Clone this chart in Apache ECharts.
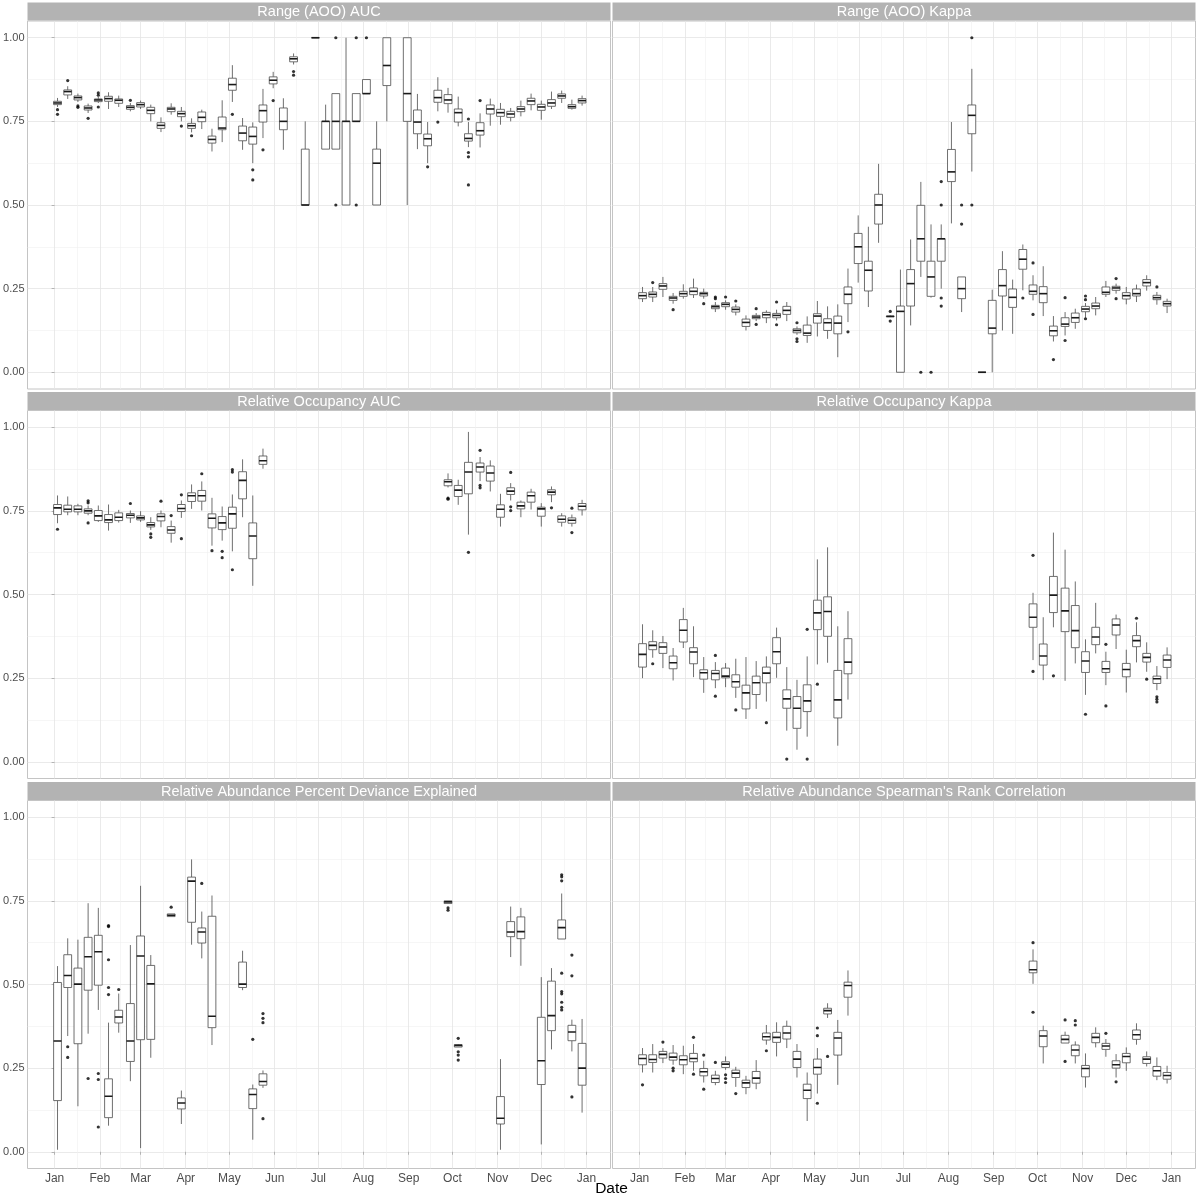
<!DOCTYPE html>
<html>
<head>
<meta charset="utf-8">
<script src="https://cdn.jsdelivr.net/npm/echarts@6/dist/echarts.min.js"></script>
<style>html,body{margin:0;padding:0;background:#fff}#chart{width:1200px;height:1200px}</style>
</head>
<body>
<div id="chart"></div>
<script>
// ---- week positions (day of year of each weekly sample) ----
const weekDay = [2,9,16,23,30,37,44,52,59,66,73,80,87,94,101,108,115,122,129,136,143,150,157,164,172,179,186,193,200,207,214,221,228,235,242,249,256,263,270,277,284,292,299,306,313,320,327,334,341,348,355,362];
const monthTickDays = [0,31,59,90,120,151,181,212,243,273,304,334,365];
const monthLabels = ['Jan','Feb','Mar','Apr','May','Jun','Jul','Aug','Sep','Oct','Nov','Dec','Jan'];
const yTicks = [0, 0.25, 0.5, 0.75, 1.0];
const yMinorTicks = [0.125, 0.375, 0.625, 0.875];
const panelTitles = ['Range (AOO) AUC','Range (AOO) Kappa','Relative Occupancy AUC','Relative Occupancy Kappa','Relative Abundance Percent Deviance Explained',"Relative Abundance Spearman's Rank Correlation"];

// ---- box stats: [week, lower whisker, Q1, median, Q3, upper whisker] ; outliers: [week, value] ----
const aooAucBox = [[0,0.793,0.800,0.805,0.810,0.820],[1,0.817,0.829,0.839,0.844,0.855],[2,0.808,0.814,0.821,0.826,0.833],[3,0.775,0.784,0.790,0.796,0.803],[4,0.805,0.809,0.814,0.817,0.823],[5,0.787,0.810,0.818,0.825,0.837],[6,0.793,0.804,0.813,0.817,0.827],[7,0.780,0.786,0.792,0.797,0.805],[8,0.787,0.793,0.800,0.806,0.812],[9,0.750,0.773,0.783,0.792,0.800],[10,0.718,0.729,0.738,0.746,0.762],[11,0.770,0.779,0.787,0.792,0.804],[12,0.750,0.764,0.773,0.780,0.793],[13,0.717,0.729,0.737,0.744,0.759],[14,0.727,0.749,0.762,0.778,0.785],[15,0.660,0.685,0.696,0.706,0.728],[16,0.688,0.725,0.730,0.763,0.813],[17,0.808,0.843,0.860,0.879,0.918],[18,0.665,0.692,0.715,0.736,0.760],[19,0.625,0.682,0.705,0.733,0.747],[20,0.700,0.748,0.782,0.799,0.847],[21,0.849,0.862,0.873,0.883,0.898],[22,0.665,0.725,0.750,0.790,0.819],[23,0.920,0.928,0.937,0.943,0.953],[24,0.500,0.500,0.500,0.667,0.750],[25,1.0,1.0,1.0,1.0,1.0],[26,0.667,0.667,0.750,0.750,0.800],[27,0.667,0.667,0.750,0.833,0.833],[28,0.500,0.500,0.750,0.750,1.0],[29,0.750,0.750,0.750,0.833,0.833],[30,0.833,0.833,0.833,0.875,0.875],[31,0.500,0.500,0.625,0.667,0.750],[32,0.750,0.857,0.917,1.0,1.0],[34,0.500,0.750,0.833,1.0,1.0],[35,0.667,0.713,0.748,0.784,0.832],[36,0.625,0.677,0.698,0.712,0.748],[37,0.780,0.807,0.821,0.843,0.882],[38,0.776,0.803,0.814,0.830,0.850],[39,0.735,0.748,0.776,0.787,0.824],[40,0.673,0.691,0.699,0.713,0.748],[41,0.672,0.709,0.722,0.746,0.774],[42,0.737,0.772,0.787,0.799,0.818],[43,0.740,0.765,0.776,0.786,0.805],[44,0.750,0.762,0.772,0.780,0.790],[45,0.765,0.779,0.787,0.794,0.812],[46,0.783,0.800,0.811,0.819,0.833],[47,0.755,0.783,0.793,0.801,0.812],[48,0.787,0.795,0.805,0.815,0.839],[49,0.805,0.819,0.826,0.832,0.842],[50,0.785,0.789,0.794,0.800,0.815],[51,0.797,0.805,0.812,0.818,0.827]];
const aooAucOut = [[0,0.785],[0,0.771],[1,0.872],[2,0.796],[2,0.792],[3,0.759],[4,0.835],[4,0.828],[4,0.793],[7,0.813],[12,0.736],[13,0.707],[17,0.771],[19,0.605],[19,0.575],[20,0.665],[21,0.812],[23,0.899],[23,0.888],[27,1.0],[27,0.5],[29,1.0],[29,0.5],[30,1.0],[36,0.614],[37,0.748],[40,0.757],[40,0.657],[40,0.644],[40,0.560],[41,0.812]];

const aooKappaBox = [[0,0.210,0.220,0.229,0.238,0.255],[1,0.210,0.225,0.233,0.240,0.255],[2,0.225,0.248,0.258,0.265,0.285],[3,0.205,0.215,0.222,0.227,0.237],[4,0.220,0.227,0.235,0.242,0.263],[5,0.222,0.232,0.242,0.252,0.280],[6,0.220,0.228,0.235,0.239,0.250],[7,0.180,0.190,0.196,0.200,0.210],[8,0.187,0.196,0.203,0.208,0.215],[9,0.170,0.180,0.188,0.195,0.203],[10,0.125,0.137,0.149,0.159,0.170],[11,0.153,0.160,0.165,0.170,0.177],[12,0.147,0.163,0.172,0.179,0.185],[13,0.155,0.163,0.170,0.176,0.187],[14,0.153,0.173,0.185,0.197,0.210],[15,0.112,0.118,0.125,0.130,0.137],[16,0.088,0.110,0.117,0.141,0.167],[17,0.107,0.147,0.168,0.175,0.213],[18,0.100,0.125,0.148,0.160,0.197],[19,0.045,0.115,0.147,0.168,0.203],[20,0.150,0.205,0.233,0.255,0.310],[21,0.268,0.325,0.375,0.415,0.469],[22,0.195,0.243,0.305,0.332,0.435],[23,0.387,0.443,0.500,0.532,0.623],[24,0.165,0.166,0.167,0.168,0.170],[25,0.0,0.0,0.182,0.198,0.307],[26,0.140,0.198,0.265,0.307,0.397],[27,0.285,0.332,0.399,0.499,0.569],[28,0.223,0.227,0.285,0.332,0.442],[29,0.250,0.332,0.399,0.399,0.442],[30,0.445,0.570,0.599,0.666,0.748],[31,0.180,0.220,0.250,0.285,0.285],[32,0.600,0.713,0.768,0.799,0.907],[33,0,0,0,0,0],[34,0.0,0.115,0.132,0.215,0.247],[35,0.125,0.228,0.259,0.307,0.362],[36,0.115,0.194,0.224,0.249,0.277],[37,0.245,0.308,0.338,0.367,0.382],[38,0.215,0.233,0.242,0.261,0.290],[39,0.168,0.208,0.235,0.256,0.317],[40,0.092,0.109,0.124,0.138,0.168],[41,0.110,0.137,0.144,0.163,0.180],[42,0.130,0.149,0.163,0.177,0.190],[43,0.163,0.181,0.189,0.197,0.207],[44,0.170,0.190,0.198,0.207,0.225],[45,0.225,0.233,0.239,0.255,0.273],[46,0.235,0.245,0.252,0.257,0.265],[47,0.203,0.219,0.229,0.238,0.255],[48,0.210,0.228,0.235,0.249,0.262],[49,0.244,0.258,0.268,0.277,0.290],[50,0.202,0.217,0.223,0.230,0.240],[51,0.177,0.198,0.205,0.212,0.220]];
const aooKappaOut = [[1,0.268],[3,0.187],[6,0.205],[7,0.225],[7,0.220],[8,0.225],[9,0.213],[11,0.190],[11,0.143],[13,0.210],[13,0.142],[15,0.148],[15,0.100],[15,0.092],[20,0.121],[24,0.182],[24,0.153],[27,0],[28,0],[29,0.570],[29,0.500],[29,0.222],[29,0.198],[31,0.5],[31,0.443],[32,1.0],[32,0.5],[37,0.222],[38,0.327],[38,0.173],[40,0.038],[41,0.223],[41,0.095],[43,0.228],[43,0.217],[43,0.160],[46,0.280],[46,0.220],[50,0.255]];

const occAucBox = [[0,0.713,0.739,0.759,0.769,0.796],[1,0.737,0.747,0.755,0.767,0.793],[2,0.737,0.747,0.755,0.765,0.771],[3,0.737,0.743,0.750,0.756,0.766],[4,0.717,0.721,0.735,0.751,0.766],[5,0.691,0.715,0.723,0.739,0.769],[6,0.715,0.721,0.731,0.744,0.753],[7,0.714,0.729,0.737,0.742,0.751],[8,0.717,0.723,0.729,0.735,0.749],[9,0.693,0.702,0.708,0.715,0.731],[10,0.701,0.720,0.733,0.741,0.751],[11,0.655,0.683,0.693,0.703,0.721],[12,0.729,0.748,0.757,0.769,0.781],[13,0.756,0.778,0.795,0.804,0.829],[14,0.751,0.779,0.795,0.811,0.838],[15,0.646,0.699,0.728,0.741,0.789],[16,0.661,0.694,0.714,0.733,0.763],[17,0.629,0.698,0.741,0.761,0.799],[18,0.731,0.786,0.841,0.867,0.904],[19,0.526,0.607,0.675,0.714,0.796],[20,0.876,0.889,0.900,0.914,0.936],[38,0.820,0.825,0.837,0.843,0.862],[39,0.768,0.793,0.812,0.826,0.843],[40,0.679,0.801,0.866,0.895,0.986],[41,0.839,0.866,0.881,0.893,0.911],[42,0.808,0.839,0.863,0.884,0.901],[43,0.703,0.731,0.755,0.768,0.801],[44,0.781,0.799,0.809,0.819,0.833],[45,0.731,0.756,0.765,0.776,0.781],[46,0.754,0.776,0.795,0.806,0.816],[47,0.703,0.734,0.756,0.761,0.773],[48,0.776,0.798,0.806,0.813,0.823],[49,0.703,0.716,0.725,0.735,0.743],[50,0.703,0.713,0.722,0.729,0.739],[51,0.736,0.753,0.764,0.772,0.783]];
const occAucOut = [[0,0.695],[3,0.780],[3,0.774],[3,0.714],[7,0.772],[9,0.681],[9,0.671],[10,0.779],[11,0.736],[12,0.798],[12,0.667],[14,0.861],[15,0.631],[16,0.629],[16,0.610],[17,0.873],[17,0.866],[17,0.574],[38,0.788],[38,0.785],[40,0.626],[41,0.931],[41,0.826],[41,0.819],[44,0.865],[44,0.762],[44,0.751],[48,0.759],[50,0.758],[50,0.685]];

const occKappaBox = [[0,0.250,0.283,0.321,0.353,0.411],[1,0.311,0.335,0.348,0.359,0.393],[2,0.280,0.324,0.343,0.356,0.376],[3,0.243,0.278,0.296,0.316,0.340],[4,0.340,0.358,0.393,0.425,0.460],[5,0.253,0.293,0.328,0.341,0.405],[6,0.206,0.247,0.266,0.275,0.313],[7,0.220,0.245,0.264,0.273,0.298],[8,0.223,0.251,0.256,0.280,0.295],[9,0.191,0.223,0.239,0.260,0.308],[10,0.128,0.158,0.206,0.229,0.313],[11,0.158,0.201,0.236,0.256,0.301],[12,0.180,0.236,0.265,0.283,0.315],[13,0.251,0.293,0.329,0.371,0.401],[14,0.093,0.160,0.188,0.215,0.283],[15,0.036,0.100,0.160,0.195,0.245],[16,0.075,0.150,0.182,0.230,0.315],[17,0.291,0.395,0.445,0.483,0.605],[18,0.296,0.375,0.449,0.493,0.641],[19,0.048,0.131,0.185,0.273,0.405],[20,0.186,0.263,0.298,0.368,0.450],[38,0.304,0.402,0.432,0.472,0.505],[39,0.244,0.289,0.316,0.352,0.432],[40,0.402,0.446,0.498,0.554,0.685],[41,0.242,0.389,0.451,0.519,0.634],[42,0.294,0.341,0.392,0.467,0.539],[43,0.200,0.267,0.301,0.329,0.366],[44,0.324,0.350,0.373,0.402,0.475],[45,0.229,0.267,0.278,0.300,0.329],[46,0.337,0.379,0.409,0.427,0.440],[47,0.207,0.254,0.276,0.294,0.335],[48,0.297,0.344,0.362,0.377,0.417],[49,0.269,0.298,0.312,0.324,0.357],[50,0.214,0.234,0.248,0.256,0.286],[51,0.247,0.282,0.304,0.319,0.342]];
const occKappaOut = [[1,0.293],[7,0.318],[7,0.196],[9,0.155],[12,0.117],[14,0.008],[16,0.396],[16,0.008],[17,0.232],[38,0.617],[38,0.270],[40,0.257],[43,0.142],[45,0.351],[45,0.167],[48,0.429],[49,0.247],[50,0.194],[50,0.187],[50,0.179]];

const devExplBox = [[0,0.006,0.153,0.331,0.506,0.555],[1,0.346,0.491,0.527,0.589,0.638],[2,0.136,0.323,0.501,0.549,0.634],[3,0.353,0.483,0.583,0.641,0.743],[4,0.424,0.498,0.598,0.647,0.729],[5,0.078,0.102,0.166,0.218,0.386],[6,0.356,0.385,0.403,0.423,0.473],[7,0.211,0.270,0.331,0.443,0.618],[8,0.011,0.335,0.585,0.645,0.795],[9,0.281,0.336,0.502,0.557,0.588],[11,0.703,0.703,0.707,0.711,0.711],[12,0.083,0.128,0.146,0.161,0.183],[13,0.619,0.686,0.809,0.821,0.874],[14,0.578,0.624,0.657,0.669,0.718],[15,0.319,0.371,0.405,0.704,0.766],[18,0.483,0.491,0.501,0.567,0.601],[19,0.036,0.129,0.171,0.188,0.201],[20,0.191,0.199,0.210,0.233,0.243],[38,0.742,0.742,0.747,0.750,0.750],[39,0.313,0.313,0.318,0.320,0.322],[43,0.006,0.083,0.100,0.165,0.277],[44,0.582,0.643,0.657,0.688,0.733],[45,0.556,0.637,0.658,0.702,0.729],[47,0.022,0.201,0.272,0.402,0.522],[48,0.306,0.362,0.407,0.510,0.549],[49,0.636,0.636,0.670,0.693,0.772],[50,0.300,0.332,0.358,0.378,0.395],[51,0.117,0.199,0.250,0.324,0.397]];
const devExplOut = [[1,0.314],[1,0.282],[3,0.219],[4,0.234],[4,0.216],[4,0.074],[5,0.676],[5,0.673],[5,0.574],[5,0.491],[5,0.470],[6,0.485],[11,0.731],[14,0.802],[19,0.336],[20,0.413],[20,0.399],[20,0.386],[20,0.099],[38,0.729],[38,0.722],[39,0.339],[39,0.299],[39,0.289],[39,0.274],[49,0.828],[49,0.822],[49,0.810],[49,0.534],[49,0.479],[49,0.472],[49,0.447],[49,0.432],[49,0.424],[50,0.588],[50,0.526],[50,0.164]];

const spearmanBox = [[0,0.237,0.260,0.279,0.290,0.310],[1,0.237,0.267,0.276,0.290,0.322],[2,0.265,0.280,0.291,0.300,0.310],[3,0.260,0.274,0.283,0.295,0.319],[4,0.232,0.260,0.275,0.287,0.317],[5,0.242,0.269,0.279,0.294,0.322],[6,0.207,0.227,0.239,0.249,0.272],[7,0.199,0.207,0.219,0.229,0.242],[8,0.245,0.252,0.262,0.269,0.285],[9,0.194,0.222,0.235,0.244,0.254],[10,0.172,0.192,0.206,0.214,0.227],[11,0.187,0.205,0.220,0.240,0.274],[12,0.320,0.334,0.344,0.355,0.379],[13,0.285,0.327,0.342,0.357,0.387],[14,0.310,0.337,0.355,0.375,0.392],[15,0.222,0.252,0.277,0.300,0.322],[16,0.092,0.159,0.184,0.202,0.237],[17,0.174,0.232,0.252,0.277,0.310],[18,0.400,0.412,0.422,0.429,0.444],[19,0.200,0.289,0.340,0.357,0.394],[20,0.407,0.462,0.497,0.507,0.542],[38,0.502,0.535,0.544,0.570,0.605],[39,0.264,0.314,0.346,0.362,0.377],[41,0.325,0.325,0.336,0.348,0.359],[42,0.264,0.287,0.304,0.319,0.330],[43,0.192,0.224,0.249,0.258,0.294],[44,0.312,0.326,0.342,0.354,0.372],[45,0.284,0.306,0.316,0.324,0.337],[46,0.222,0.250,0.260,0.272,0.292],[47,0.242,0.266,0.285,0.294,0.312],[48,0.320,0.336,0.350,0.364,0.384],[49,0.255,0.264,0.277,0.284,0.300],[50,0.214,0.226,0.242,0.255,0.282],[51,0.204,0.217,0.228,0.237,0.257]];
const spearmanOut = [[0,0.200],[2,0.328],[3,0.250],[3,0.242],[5,0.342],[5,0.232],[6,0.289],[6,0.187],[7,0.267],[8,0.230],[8,0.219],[8,0.207],[9,0.174],[12,0.302],[17,0.370],[17,0.347],[17,0.145],[18,0.285],[38,0.625],[38,0.417],[41,0.394],[41,0.270],[42,0.392],[42,0.379],[45,0.354],[46,0.209]];

const panelBoxes = [aooAucBox, aooKappaBox, occAucBox, occKappaBox, devExplBox, spearmanBox];
const panelOutliers = [aooAucOut, aooKappaOut, occAucOut, occKappaOut, devExplOut, spearmanOut];

// ---- layout (styling only) ----
const FONT = "'Liberation Sans', Arial, sans-serif";
const gridLefts = [27.5, 612.5];
const gridTops = [21, 410.5, 800.5];
const GW = 583, GH = 368, STRIP = 18;
const X_MIN = -18.6, X_MAX = 381.5;
const Y_MIN = -0.05, Y_MAX = 1.05;
const xMinorTicks = monthTickDays.slice(0, -1).map((d, i) => (d + monthTickDays[i + 1]) / 2);

const chart = echarts.init(document.getElementById('chart'), null, { renderer: 'canvas' });

const grids = [], xAxes = [], yAxes = [], series = [], graphics = [];

function renderBox(params, api) {
  const x = api.value(0);
  const lo = api.coord([x, api.value(1)]);
  const q1 = api.coord([x, api.value(2)]);
  const md = api.coord([x, api.value(3)]);
  const q3 = api.coord([x, api.value(4)]);
  const hi = api.coord([x, api.value(5)]);
  const hw = 3.9;
  const stroke = '#4a4a4a';
  return {
    type: 'group',
    children: [
      { type: 'line', shape: { x1: hi[0], y1: hi[1], x2: q3[0], y2: q3[1] }, style: { stroke: stroke, lineWidth: 0.8 } },
      { type: 'line', shape: { x1: q1[0], y1: q1[1], x2: lo[0], y2: lo[1] }, style: { stroke: stroke, lineWidth: 0.8 } },
      { type: 'rect', shape: { x: q3[0] - hw, y: q3[1], width: hw * 2, height: Math.max(q1[1] - q3[1], 0) }, style: { fill: '#ffffff', stroke: stroke, lineWidth: 0.8 } },
      { type: 'line', shape: { x1: md[0] - hw, y1: md[1], x2: md[0] + hw, y2: md[1] }, style: { stroke: '#1a1a1a', lineWidth: 1.6 } }
    ]
  };
}

for (let i = 0; i < 6; i++) {
  const row = Math.floor(i / 2), col = i % 2;
  const left = gridLefts[col], top = gridTops[row];
  const isBottom = row === 2, isLeft = col === 0;
  grids.push({ left: left, top: top, width: GW, height: GH, show: true, borderColor: '#C4C4C4', borderWidth: 1, backgroundColor: 'transparent', containLabel: false, outerBoundsMode: 'none' });

  // main x axis (month ticks, major grid)
  xAxes.push({
    gridIndex: i, type: 'value', min: X_MIN, max: X_MAX, position: 'bottom',
    axisLine: { show: false },
    axisTick: { show: isBottom, customValues: monthTickDays, length: 3, lineStyle: { color: '#B3B3B3', width: 1 } },
    axisLabel: { show: isBottom, customValues: monthTickDays, margin: 4, color: '#4D4D4D', fontSize: 12, fontFamily: FONT,
      formatter: function (v) { const k = monthTickDays.indexOf(Math.round(v)); return k >= 0 ? monthLabels[k] : ''; } },
    splitLine: { show: true, lineStyle: { color: '#E4E4E4', width: 0.8 } }
  });
  // minor x axis
  xAxes.push({
    gridIndex: i, type: 'value', min: X_MIN, max: X_MAX, position: 'top',
    axisLine: { show: false }, axisLabel: { show: false },
    axisTick: { show: false, customValues: xMinorTicks },
    splitLine: { show: true, lineStyle: { color: '#F0F0F0', width: 0.6 } }
  });
  // main y axis
  yAxes.push({
    gridIndex: i, type: 'value', min: Y_MIN, max: Y_MAX, position: 'left',
    axisLine: { show: false },
    axisTick: { show: isLeft, customValues: yTicks, length: 3, lineStyle: { color: '#B3B3B3', width: 1 } },
    axisLabel: { show: isLeft, customValues: yTicks, margin: 3, color: '#4D4D4D', fontSize: 11, fontFamily: FONT,
      formatter: function (v) { return Number(v).toFixed(2); } },
    splitLine: { show: true, lineStyle: { color: '#E4E4E4', width: 0.8 } }
  });
  // minor y axis
  yAxes.push({
    gridIndex: i, type: 'value', min: Y_MIN, max: Y_MAX, position: 'right',
    axisLine: { show: false }, axisLabel: { show: false },
    axisTick: { show: false, customValues: yMinorTicks },
    splitLine: { show: true, lineStyle: { color: '#F0F0F0', width: 0.6 } }
  });

  series.push({
    type: 'custom', name: panelTitles[i], xAxisIndex: 2 * i, yAxisIndex: 2 * i,
    renderItem: renderBox, clip: true,
    encode: { x: 0, y: [1, 2, 3, 4, 5] },
    data: panelBoxes[i].map(r => [weekDay[r[0]], r[1], r[2], r[3], r[4], r[5]]),
    z: 3
  });
  series.push({
    type: 'scatter', name: panelTitles[i] + ' outliers', xAxisIndex: 2 * i, yAxisIndex: 2 * i,
    symbol: 'circle', symbolSize: 3.2, itemStyle: { color: '#000000' },
    data: panelOutliers[i].map(r => [weekDay[r[0]], r[1]]),
    z: 4, silent: true
  });

  graphics.push({ type: 'rect', shape: { x: left, y: top - STRIP - 0.5, width: GW, height: STRIP }, style: { fill: '#B3B3B3' }, z: 10 });
  graphics.push({ type: 'text', x: left + GW / 2, y: top - STRIP / 2, z: 11,
    style: { text: panelTitles[i], fill: '#ffffff', fontSize: 14.5, fontFamily: FONT, align: 'center', verticalAlign: 'middle', textAlign: 'center', textVerticalAlign: 'middle' } });
}

graphics.push({ type: 'text', x: (gridLefts[0] + gridLefts[1] + GW) / 2, y: 1189, z: 11,
  style: { text: 'Date', fill: '#000000', fontSize: 15.5, fontFamily: FONT, align: 'center', verticalAlign: 'middle', textAlign: 'center', textVerticalAlign: 'middle' } });

chart.setOption({
  animation: false,
  backgroundColor: '#ffffff',
  grid: grids,
  xAxis: xAxes,
  yAxis: yAxes,
  series: series,
  graphic: { elements: graphics }
});
</script>
</body>
</html>
